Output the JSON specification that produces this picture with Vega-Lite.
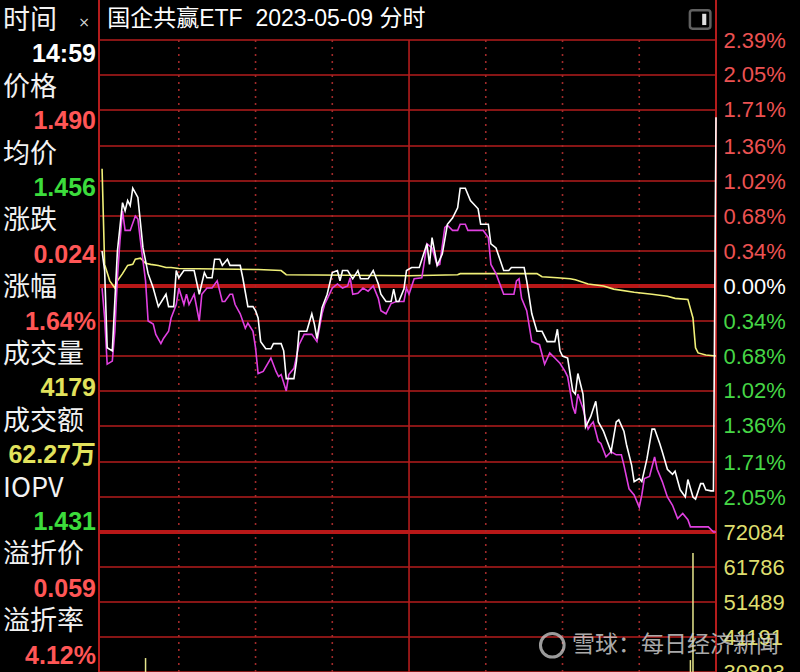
{
  "$schema": "https://vega.github.io/schema/vega-lite/v6.json",
  "autosize": {"type": "none"},
  "padding": {"left": 99, "top": 40, "right": 84, "bottom": 0},
  "width": 617,
  "height": 632,
  "background": "#000000",
  "config": {"view": {"stroke": null}},
  "datasets": {
    "hgrid": [
      {"pct": 2.39, "kind": "n"}, {"pct": 2.05, "kind": "n"}, {"pct": 1.71, "kind": "n"}, {"pct": 1.36, "kind": "n"},
      {"pct": 1.02, "kind": "n"}, {"pct": 0.68, "kind": "n"}, {"pct": 0.34, "kind": "n"}, {"pct": 0, "kind": "t"},
      {"pct": -0.34, "kind": "n"}, {"pct": -0.68, "kind": "n"}, {"pct": -1.02, "kind": "n"}, {"pct": -1.36, "kind": "n"},
      {"pct": -1.71, "kind": "n"}, {"pct": -2.05, "kind": "n"}, {"pct": -2.39, "kind": "t"}, {"pct": -2.73, "kind": "n"},
      {"pct": -3.07, "kind": "n"}, {"pct": -3.41, "kind": "n"}, {"pct": -3.75, "kind": "n"}
    ],
    "vgrid": [
      {"m": 30, "kind": "dot"}, {"m": 60, "kind": "dot"}, {"m": 90, "kind": "dot"}, {"m": 120, "kind": "solid"},
      {"m": 150, "kind": "dot"}, {"m": 180, "kind": "dot"}, {"m": 210, "kind": "dot"}
    ],
    "border": [
      {"m": -1.2, "top": 2.78, "bottom": -3.8},
      {"m": 240, "top": 2.78, "bottom": -3.8}
    ],
    "volume": [
      {"m": 17, "vol": 35000}, {"m": 230, "vol": 34400}, {"m": 231, "vol": 65900}, {"m": 240, "vol": 4179}
    ],
    "avg": [
      {"m":0,"pct":1.14},{"m":1,"pct":0.21},{"m":3,"pct":0.05},{"m":5,"pct":-0.02},{"m":6,"pct":0.05},{"m":8,"pct":0.12},
      {"m":10,"pct":0.20},{"m":12,"pct":0.21},{"m":13,"pct":0.26},{"m":15,"pct":0.27},{"m":17,"pct":0.22},{"m":19,"pct":0.21},
      {"m":22,"pct":0.20},{"m":25,"pct":0.18},{"m":27,"pct":0.18},{"m":30,"pct":0.17},{"m":61,"pct":0.16},{"m":70,"pct":0.15},
      {"m":72,"pct":0.11},{"m":120,"pct":0.10},{"m":139,"pct":0.11},{"m":140,"pct":0.12},{"m":170,"pct":0.12},{"m":172,"pct":0.09},
      {"m":178,"pct":0.08},{"m":183,"pct":0.07},{"m":185,"pct":0.06},{"m":190,"pct":0.02},{"m":196,"pct":0.00},{"m":200,"pct":-0.03},
      {"m":208,"pct":-0.06},{"m":215,"pct":-0.08},{"m":221,"pct":-0.10},{"m":224,"pct":-0.12},{"m":229,"pct":-0.13},{"m":231,"pct":-0.31},
      {"m":232,"pct":-0.60},{"m":233,"pct":-0.65},{"m":236,"pct":-0.67},{"m":240,"pct":-0.68}
    ],
    "iopv": [
      {"m":0,"pct":-0.02},{"m":1,"pct":-0.31},{"m":2,"pct":-0.76},{"m":4,"pct":-0.73},{"m":5,"pct":-0.44},{"m":6,"pct":0.08},
      {"m":7,"pct":0.44},{"m":8,"pct":0.73},{"m":9,"pct":0.54},{"m":11,"pct":0.54},{"m":13,"pct":0.68},{"m":14,"pct":0.65},
      {"m":15,"pct":0.44},{"m":17,"pct":0.05},{"m":18,"pct":-0.34},{"m":20,"pct":-0.37},{"m":21,"pct":-0.47},{"m":23,"pct":-0.56},
      {"m":24,"pct":-0.51},{"m":26,"pct":-0.44},{"m":27,"pct":-0.31},{"m":29,"pct":-0.18},{"m":30,"pct":-0.02},{"m":32,"pct":-0.18},
      {"m":33,"pct":-0.08},{"m":34,"pct":-0.18},{"m":36,"pct":-0.08},{"m":38,"pct":-0.34},{"m":39,"pct":-0.08},{"m":41,"pct":-0.02},
      {"m":43,"pct":-0.02},{"m":45,"pct":0.05},{"m":47,"pct":-0.15},{"m":48,"pct":-0.15},{"m":50,"pct":-0.08},{"m":51,"pct":-0.08},
      {"m":52,"pct":-0.18},{"m":54,"pct":-0.27},{"m":56,"pct":-0.41},{"m":57,"pct":-0.36},{"m":59,"pct":-0.44},{"m":60,"pct":-0.60},
      {"m":61,"pct":-0.85},{"m":63,"pct":-0.83},{"m":66,"pct":-0.70},{"m":68,"pct":-0.83},{"m":69,"pct":-0.88},{"m":70,"pct":-0.86},
      {"m":72,"pct":-1.02},{"m":73,"pct":-0.86},{"m":75,"pct":-0.80},{"m":77,"pct":-0.57},{"m":79,"pct":-0.47},{"m":82,"pct":-0.47},
      {"m":84,"pct":-0.54},{"m":86,"pct":-0.27},{"m":87,"pct":-0.18},{"m":90,"pct":-0.02},{"m":92,"pct":0.02},{"m":94,"pct":-0.02},
      {"m":96,"pct":0.00},{"m":97,"pct":0.08},{"m":98,"pct":-0.08},{"m":100,"pct":-0.07},{"m":102,"pct":-0.02},{"m":104,"pct":-0.05},
      {"m":106,"pct":0.00},{"m":108,"pct":-0.12},{"m":109,"pct":-0.24},{"m":111,"pct":-0.27},{"m":113,"pct":-0.17},{"m":115,"pct":-0.15},
      {"m":118,"pct":-0.15},{"m":119,"pct":-0.02},{"m":120,"pct":-0.08},{"m":122,"pct":0.07},{"m":125,"pct":0.08},{"m":126,"pct":0.24},
      {"m":127,"pct":0.41},{"m":129,"pct":0.37},{"m":131,"pct":0.20},{"m":132,"pct":0.21},{"m":134,"pct":0.57},{"m":135,"pct":0.59},
      {"m":137,"pct":0.54},{"m":139,"pct":0.54},{"m":140,"pct":0.60},{"m":142,"pct":0.60},{"m":143,"pct":0.54},{"m":149,"pct":0.54},
      {"m":151,"pct":0.47},{"m":152,"pct":0.21},{"m":154,"pct":0.12},{"m":157,"pct":-0.08},{"m":161,"pct":-0.08},{"m":162,"pct":0.05},
      {"m":163,"pct":0.07},{"m":164,"pct":-0.12},{"m":166,"pct":-0.24},{"m":168,"pct":-0.54},{"m":171,"pct":-0.57},{"m":173,"pct":-0.76},
      {"m":175,"pct":-0.65},{"m":177,"pct":-0.70},{"m":179,"pct":-0.75},{"m":181,"pct":-0.83},{"m":182,"pct":-0.88},{"m":184,"pct":-1.17},
      {"m":185,"pct":-1.24},{"m":186,"pct":-1.05},{"m":188,"pct":-1.19},{"m":190,"pct":-1.39},{"m":191,"pct":-1.35},{"m":192,"pct":-1.32},
      {"m":194,"pct":-1.51},{"m":195,"pct":-1.53},{"m":197,"pct":-1.66},{"m":199,"pct":-1.61},{"m":201,"pct":-1.64},{"m":203,"pct":-1.64},
      {"m":204,"pct":-1.74},{"m":206,"pct":-1.97},{"m":208,"pct":-2.03},{"m":210,"pct":-2.15},{"m":211,"pct":-2.03},{"m":212,"pct":-1.87},
      {"m":214,"pct":-1.85},{"m":216,"pct":-1.66},{"m":217,"pct":-1.78},{"m":219,"pct":-1.90},{"m":221,"pct":-2.05},{"m":223,"pct":-2.13},
      {"m":225,"pct":-2.26},{"m":227,"pct":-2.21},{"m":229,"pct":-2.27},{"m":230,"pct":-2.34},{"m":237,"pct":-2.34},{"m":239,"pct":-2.39},
      {"m":240,"pct":-2.39}
    ],
    "price": [
      {"m":0,"pct":0.34},{"m":1,"pct":0.15},{"m":2,"pct":-0.60},{"m":4,"pct":-0.63},{"m":6,"pct":0.34},{"m":8,"pct":0.81},
      {"m":9,"pct":0.73},{"m":10,"pct":0.83},{"m":11,"pct":0.78},{"m":12,"pct":0.95},{"m":14,"pct":0.86},{"m":16,"pct":0.37},
      {"m":18,"pct":0.12},{"m":20,"pct":-0.02},{"m":22,"pct":-0.20},{"m":25,"pct":-0.08},{"m":26,"pct":-0.20},{"m":28,"pct":-0.20},
      {"m":29,"pct":0.15},{"m":30,"pct":0.08},{"m":32,"pct":0.15},{"m":36,"pct":0.15},{"m":38,"pct":-0.08},{"m":40,"pct":0.13},
      {"m":41,"pct":0.08},{"m":43,"pct":0.08},{"m":44,"pct":0.26},{"m":46,"pct":0.26},{"m":47,"pct":0.20},{"m":49,"pct":0.26},
      {"m":50,"pct":0.20},{"m":54,"pct":0.20},{"m":55,"pct":0.08},{"m":57,"pct":-0.20},{"m":59,"pct":-0.20},{"m":60,"pct":-0.24},
      {"m":61,"pct":-0.31},{"m":62,"pct":-0.54},{"m":64,"pct":-0.61},{"m":66,"pct":-0.61},{"m":67,"pct":-0.56},{"m":70,"pct":-0.56},
      {"m":71,"pct":-0.63},{"m":72,"pct":-0.90},{"m":75,"pct":-0.90},{"m":76,"pct":-0.73},{"m":77,"pct":-0.44},{"m":80,"pct":-0.44},
      {"m":82,"pct":-0.27},{"m":83,"pct":-0.37},{"m":84,"pct":-0.51},{"m":86,"pct":-0.21},{"m":88,"pct":-0.08},{"m":90,"pct":0.13},
      {"m":92,"pct":0.15},{"m":93,"pct":0.05},{"m":94,"pct":0.15},{"m":96,"pct":0.15},{"m":98,"pct":0.07},{"m":100,"pct":0.15},
      {"m":101,"pct":0.07},{"m":104,"pct":0.07},{"m":106,"pct":0.15},{"m":108,"pct":0.02},{"m":109,"pct":-0.08},{"m":111,"pct":-0.15},
      {"m":113,"pct":-0.15},{"m":114,"pct":-0.03},{"m":115,"pct":-0.15},{"m":116,"pct":-0.15},{"m":118,"pct":-0.03},{"m":119,"pct":0.15},
      {"m":121,"pct":0.18},{"m":124,"pct":0.18},{"m":127,"pct":0.41},{"m":128,"pct":0.21},{"m":129,"pct":0.47},{"m":131,"pct":0.20},
      {"m":133,"pct":0.31},{"m":135,"pct":0.60},{"m":137,"pct":0.66},{"m":139,"pct":0.76},{"m":140,"pct":0.95},{"m":142,"pct":0.95},
      {"m":144,"pct":0.83},{"m":147,"pct":0.75},{"m":148,"pct":0.60},{"m":151,"pct":0.60},{"m":152,"pct":0.41},{"m":154,"pct":0.37},
      {"m":157,"pct":0.15},{"m":159,"pct":0.15},{"m":160,"pct":0.18},{"m":165,"pct":0.18},{"m":166,"pct":0.05},{"m":168,"pct":-0.27},
      {"m":170,"pct":-0.44},{"m":172,"pct":-0.44},{"m":174,"pct":-0.54},{"m":177,"pct":-0.54},{"m":178,"pct":-0.42},{"m":179,"pct":-0.63},
      {"m":180,"pct":-0.68},{"m":182,"pct":-0.70},{"m":184,"pct":-1.02},{"m":185,"pct":-1.05},{"m":186,"pct":-0.85},{"m":188,"pct":-1.05},
      {"m":189,"pct":-1.37},{"m":191,"pct":-1.27},{"m":193,"pct":-1.12},{"m":194,"pct":-1.32},{"m":196,"pct":-1.41},{"m":199,"pct":-1.61},
      {"m":201,"pct":-1.32},{"m":202,"pct":-1.30},{"m":204,"pct":-1.41},{"m":205,"pct":-1.54},{"m":207,"pct":-1.74},{"m":208,"pct":-1.90},
      {"m":210,"pct":-1.87},{"m":211,"pct":-1.90},{"m":213,"pct":-1.68},{"m":215,"pct":-1.39},{"m":216,"pct":-1.39},{"m":218,"pct":-1.53},
      {"m":219,"pct":-1.61},{"m":221,"pct":-1.78},{"m":223,"pct":-1.83},{"m":224,"pct":-1.80},{"m":226,"pct":-1.98},{"m":228,"pct":-2.05},
      {"m":229,"pct":-1.88},{"m":231,"pct":-2.05},{"m":232,"pct":-2.07},{"m":234,"pct":-1.92},{"m":235,"pct":-1.92},{"m":236,"pct":-1.98},
      {"m":238,"pct":-1.99},{"m":239,"pct":-1.99},{"m":240,"pct":1.64}
    ],
    "info": [
      {"row":0,"col":"label","text":"时间"},
      {"row":1,"col":"value","text":"14:59","tone":"flat"},
      {"row":2,"col":"label","text":"价格"},
      {"row":3,"col":"value","text":"1.490","tone":"up"},
      {"row":4,"col":"label","text":"均价"},
      {"row":5,"col":"value","text":"1.456","tone":"down"},
      {"row":6,"col":"label","text":"涨跌"},
      {"row":7,"col":"value","text":"0.024","tone":"up"},
      {"row":8,"col":"label","text":"涨幅"},
      {"row":9,"col":"value","text":"1.64%","tone":"up"},
      {"row":10,"col":"label","text":"成交量"},
      {"row":11,"col":"value","text":"4179","tone":"vol"},
      {"row":12,"col":"label","text":"成交额"},
      {"row":13,"col":"value","text":"62.27万","tone":"vol"},
      {"row":14,"col":"label","text":"IOPV"},
      {"row":15,"col":"value","text":"1.431","tone":"down"},
      {"row":16,"col":"label","text":"溢折价"},
      {"row":17,"col":"value","text":"0.059","tone":"up"},
      {"row":18,"col":"label","text":"溢折率"},
      {"row":19,"col":"value","text":"4.12%","tone":"up"}
    ]
  },
  "resolve": {"scale": {"x": "independent", "y": "independent", "color": "independent"}, "axis": {"x": "independent", "y": "independent"}},
  "layer": [
    {
      "data": {"name": "hgrid"},
      "transform": [{"filter": "datum.kind == 'n'"}],
      "mark": {"type": "rule", "color": "#b41c1c", "strokeWidth": 1.6},
      "encoding": {
        "y": {"field": "pct", "type": "quantitative",
          "scale": {"domain": [-3.75, 2.39], "range": [632, 0], "nice": false, "zero": false},
          "axis": {"orient": "right",
            "values": [2.39, 2.05, 1.71, 1.36, 1.02, 0.68, 0.34, 0, -0.34, -0.68, -1.02, -1.36, -1.71, -2.05, -2.39, -2.73, -3.07, -3.41, -3.75],
            "labelExpr": "datum.value < -2.3 ? (datum.value > -2.5 ? '72084' : (datum.value > -2.9 ? '61786' : (datum.value > -3.2 ? '51489' : (datum.value > -3.6 ? '41191' : '30893')))) : format(abs(datum.value), '.2f') + '%'",
            "grid": false, "ticks": false, "domain": false, "title": null,
            "labelFont": "Liberation Sans", "labelFontSize": 22, "labelPadding": 7, "labelBaseline": "middle", "labelAlign": "left",
            "labelBound": false, "labelOverlap": false, "labelFlush": false,
            "labelColor": {"condition": [
              {"test": "datum.value < -2.3", "value": "#dede6e"},
              {"test": "datum.value > 0.001", "value": "#ec5252"},
              {"test": "datum.value < -0.001", "value": "#46d646"}
            ], "value": "#ffffff"}}
        }
      }
    },
    {
      "data": {"name": "hgrid"},
      "transform": [{"filter": "datum.kind == 't'"}],
      "mark": {"type": "rule", "color": "#b81818", "strokeWidth": 4},
      "encoding": {
        "y": {"field": "pct", "type": "quantitative", "scale": {"domain": [-3.75, 2.39], "range": [632, 0], "nice": false, "zero": false}, "axis": null}
      }
    },
    {
      "data": {"name": "vgrid"},
      "transform": [{"filter": "datum.kind == 'dot'"}],
      "mark": {"type": "rule", "color": "#a02a2a", "strokeWidth": 1.6, "strokeDash": [2, 5]},
      "encoding": {
        "x": {"field": "m", "type": "quantitative", "scale": {"domain": [-1.2, 240], "range": [0, 617], "nice": false, "zero": false}, "axis": null}
      }
    },
    {
      "data": {"name": "vgrid"},
      "transform": [{"filter": "datum.kind == 'solid'"}],
      "mark": {"type": "rule", "color": "#b41c1c", "strokeWidth": 1.6},
      "encoding": {
        "x": {"field": "m", "type": "quantitative", "scale": {"domain": [-1.2, 240], "range": [0, 617], "nice": false, "zero": false}, "axis": null}
      }
    },
    {
      "data": {"name": "border"},
      "mark": {"type": "rule", "color": "#b41c1c", "strokeWidth": 2},
      "encoding": {
        "x": {"field": "m", "type": "quantitative", "scale": {"domain": [-1.2, 240], "range": [0, 617], "nice": false, "zero": false}, "axis": null},
        "y": {"field": "top", "type": "quantitative", "scale": {"domain": [-3.75, 2.39], "range": [632, 0], "nice": false, "zero": false}, "axis": null},
        "y2": {"field": "bottom"}
      }
    },
    {
      "data": {"name": "volume"},
      "mark": {"type": "rule", "color": "#e6e68c", "strokeWidth": 1.5},
      "encoding": {
        "x": {"field": "m", "type": "quantitative", "scale": {"domain": [-1.2, 240], "range": [0, 617], "nice": false, "zero": false}, "axis": null},
        "y": {"field": "vol", "type": "quantitative", "scale": {"domain": [0, 72084], "range": [737, 492], "nice": false, "zero": false}, "axis": null},
        "y2": {"datum": 0}
      }
    },
    {
      "data": {"name": "avg"},
      "mark": {"type": "line", "color": "#f0f078", "strokeWidth": 1.6},
      "encoding": {
        "x": {"field": "m", "type": "quantitative", "scale": {"domain": [-1.2, 240], "range": [0, 617], "nice": false, "zero": false}, "axis": null},
        "y": {"field": "pct", "type": "quantitative", "scale": {"domain": [-3.75, 2.39], "range": [632, 0], "nice": false, "zero": false}, "axis": null}
      }
    },
    {
      "data": {"name": "iopv"},
      "mark": {"type": "line", "color": "#e040e0", "strokeWidth": 1.6},
      "encoding": {
        "x": {"field": "m", "type": "quantitative", "scale": {"domain": [-1.2, 240], "range": [0, 617], "nice": false, "zero": false}, "axis": null},
        "y": {"field": "pct", "type": "quantitative", "scale": {"domain": [-3.75, 2.39], "range": [632, 0], "nice": false, "zero": false}, "axis": null}
      }
    },
    {
      "data": {"name": "price"},
      "mark": {"type": "line", "color": "#ffffff", "strokeWidth": 1.6},
      "encoding": {
        "x": {"field": "m", "type": "quantitative", "scale": {"domain": [-1.2, 240], "range": [0, 617], "nice": false, "zero": false}, "axis": null},
        "y": {"field": "pct", "type": "quantitative", "scale": {"domain": [-3.75, 2.39], "range": [632, 0], "nice": false, "zero": false}, "axis": null}
      }
    },
    {
      "data": {"name": "info"},
      "transform": [{"filter": "datum.col == 'label'"}],
      "mark": {"type": "text", "align": "left", "baseline": "middle", "font": "Noto Sans CJK SC, Liberation Sans", "fontSize": 27, "color": "#f2f2f2"},
      "encoding": {
        "x": {"field": "col", "type": "nominal", "scale": {"type": "point", "domain": ["label", "value"], "range": [-96, -3], "padding": 0}, "axis": null},
        "y": {"field": "row", "type": "ordinal", "scale": {"type": "point", "domain": [0,1,2,3,4,5,6,7,8,9,10,11,12,13,14,15,16,17,18,19], "range": [-19, 615.6], "padding": 0}, "axis": null},
        "text": {"field": "text"}
      }
    },
    {
      "data": {"name": "info"},
      "transform": [{"filter": "datum.col == 'value'"}],
      "mark": {"type": "text", "align": "right", "baseline": "middle", "font": "Liberation Sans, Noto Sans CJK SC", "fontSize": 25, "fontWeight": "bold"},
      "encoding": {
        "x": {"field": "col", "type": "nominal", "scale": {"type": "point", "domain": ["label", "value"], "range": [-96, -3], "padding": 0}, "axis": null},
        "y": {"field": "row", "type": "ordinal", "scale": {"type": "point", "domain": [0,1,2,3,4,5,6,7,8,9,10,11,12,13,14,15,16,17,18,19], "range": [-19, 615.6], "padding": 0}, "axis": null},
        "color": {"field": "tone", "type": "nominal", "scale": {"domain": ["up", "down", "flat", "vol"], "range": ["#ff5656", "#3cdc3c", "#ffffff", "#e2e25c"]}, "legend": null},
        "text": {"field": "text"}
      }
    },
    {
      "data": {"values": [{"row": 0, "col": "value", "text": "×"}]},
      "mark": {"type": "text", "align": "right", "baseline": "middle", "font": "DejaVu Sans", "fontSize": 14, "color": "#d8d8d8", "dx": -6, "dy": 2},
      "encoding": {
        "x": {"field": "col", "type": "nominal", "scale": {"type": "point", "domain": ["label", "value"], "range": [-96, -3], "padding": 0}, "axis": null},
        "y": {"field": "row", "type": "ordinal", "scale": {"type": "point", "domain": [0,1,2,3,4,5,6,7,8,9,10,11,12,13,14,15,16,17,18,19], "range": [-19, 615.6], "padding": 0}, "axis": null},
        "text": {"field": "text"}
      }
    },
    {
      "data": {"values": [{"label": "国企共赢ETF\u00a0\u00a02023-05-09\u00a0分时"}]},
      "mark": {"type": "text", "align": "left", "baseline": "middle", "font": "Liberation Sans, Noto Sans CJK SC", "fontSize": 23, "color": "#ffffff"},
      "encoding": {
        "x": {"datum": 2, "type": "quantitative", "scale": {"domain": [-1.2, 240], "range": [0, 617], "nice": false, "zero": false}, "axis": null},
        "y": {"datum": 2.59, "type": "quantitative", "scale": {"domain": [-3.75, 2.39], "range": [632, 0], "nice": false, "zero": false}, "axis": null},
        "text": {"field": "label"}
      }
    },
    {
      "data": {"values": [{"label": "icon"}]},
      "mark": {"type": "point", "shape": "M-0.75,-0.9 H0.75 Q1,-0.9 1,-0.65 V0.65 Q1,0.9 0.75,0.9 H-0.75 Q-1,0.9 -1,0.65 V-0.65 Q-1,-0.9 -0.75,-0.9 Z", "filled": false, "size": 420, "stroke": "#8a8a8a", "strokeWidth": 2.5},
      "encoding": {
        "x": {"datum": 233.8, "type": "quantitative", "scale": {"domain": [-1.2, 240], "range": [0, 617], "nice": false, "zero": false}, "axis": null},
        "y": {"datum": 2.59, "type": "quantitative", "scale": {"domain": [-3.75, 2.39], "range": [632, 0], "nice": false, "zero": false}, "axis": null}
      }
    },
    {
      "data": {"values": [{"label": "icon bar"}]},
      "mark": {"type": "point", "shape": "M0.2,-0.55 H0.6 V0.55 H0.2 Z", "filled": true, "size": 420, "fill": "#e0e0e0", "strokeWidth": 0, "opacity": 1},
      "encoding": {
        "x": {"datum": 233.8, "type": "quantitative", "scale": {"domain": [-1.2, 240], "range": [0, 617], "nice": false, "zero": false}, "axis": null},
        "y": {"datum": 2.59, "type": "quantitative", "scale": {"domain": [-3.75, 2.39], "range": [632, 0], "nice": false, "zero": false}, "axis": null}
      }
    },
    {
      "data": {"values": [{"label": "logo"}]},
      "mark": {"type": "point", "shape": "circle", "filled": false, "size": 560, "stroke": "#cfcfcf", "strokeWidth": 3, "opacity": 0.75},
      "encoding": {
        "x": {"datum": 176, "type": "quantitative", "scale": {"domain": [-1.2, 240], "range": [0, 617], "nice": false, "zero": false}, "axis": null},
        "y": {"datum": -3.49, "type": "quantitative", "scale": {"domain": [-3.75, 2.39], "range": [632, 0], "nice": false, "zero": false}, "axis": null}
      }
    },
    {
      "data": {"values": [{"label": "雪球：每日经济新闻"}]},
      "mark": {"type": "text", "align": "left", "baseline": "middle", "font": "Noto Sans CJK SC", "fontSize": 23, "color": "#d4d4d4", "opacity": 0.8},
      "encoding": {
        "x": {"datum": 183.7, "type": "quantitative", "scale": {"domain": [-1.2, 240], "range": [0, 617], "nice": false, "zero": false}, "axis": null},
        "y": {"datum": -3.49, "type": "quantitative", "scale": {"domain": [-3.75, 2.39], "range": [632, 0], "nice": false, "zero": false}, "axis": null},
        "text": {"field": "label"}
      }
    }
  ]
}
